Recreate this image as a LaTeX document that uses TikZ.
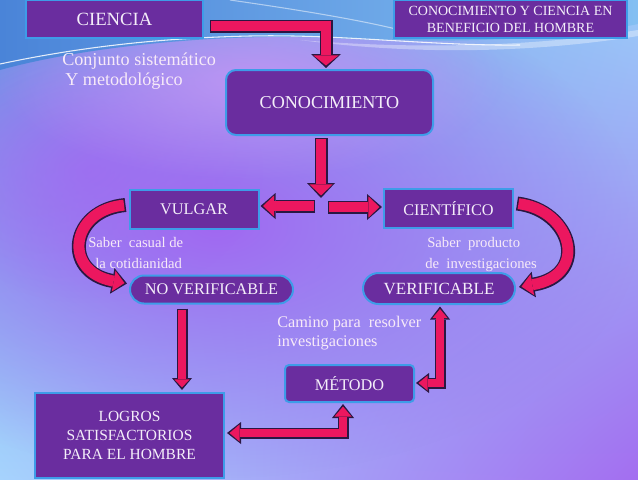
\documentclass[tikz,border=0pt]{standalone}
\usepackage{fontspec}
\setmainfont{Liberation Serif}
\usetikzlibrary{arrows.meta,shapes.misc,calc,fadings,shadings}
\definecolor{boxfill}{HTML}{6A2D9F}
\definecolor{boxline}{HTML}{3E9CE8}
\definecolor{boxtext}{HTML}{F4EEF9}
\definecolor{labtext}{HTML}{F7EAF8}
\definecolor{arrpink}{HTML}{EC175F}
\definecolor{arrdark}{HTML}{2A1742}
\definecolor{bgUL}{HTML}{6296E2}
\definecolor{bgUR}{HTML}{9ACAF8}
\definecolor{bgLL}{HTML}{A6D3FD}
\definecolor{bgLR}{HTML}{A36EF0}
\definecolor{bgP}{HTML}{A169F1}
\definecolor{bgL}{HTML}{C596F4}
\definecolor{topL}{HTML}{4A84D8}
\definecolor{topR}{HTML}{84BFF2}
\tikzfading[name=softfade, inner color=transparent!0, outer color=transparent!100]

% single-headed block arrow: #1 shaft px, #2 head width px, #3 head length px, #4 path
\newcommand\blockarrow[4]{%
  \pgfmathsetmacro\bow{#1*0.75}\pgfmathsetmacro\biw{(#1-3)*0.75}%
  \pgfmathsetmacro\bohw{#2*0.75}\pgfmathsetmacro\bihw{(#2-5)*0.75}%
  \pgfmathsetmacro\bohl{#3*0.75}\pgfmathsetmacro\bihl{(#3-4)*0.75}%
  \draw[arrdark, line width=\bow pt, line join=miter,
        -{Triangle[width=\bohw pt, length=\bohl pt, line width=0pt]}] #4;
  \draw[arrpink, line width=\biw pt, line join=miter, shorten <=1.1pt, shorten >=1.9pt,
        -{Triangle[width=\bihw pt, length=\bihl pt, line width=0pt]}] #4;
}
% double-headed block arrow
\newcommand\dblockarrow[4]{%
  \pgfmathsetmacro\bow{#1*0.75}\pgfmathsetmacro\biw{(#1-3)*0.75}%
  \pgfmathsetmacro\bohw{#2*0.75}\pgfmathsetmacro\bihw{(#2-5)*0.75}%
  \pgfmathsetmacro\bohl{#3*0.75}\pgfmathsetmacro\bihl{(#3-4)*0.75}%
  \draw[arrdark, line width=\bow pt, line join=miter,
        {Triangle[width=\bohw pt, length=\bohl pt, line width=0pt]}-{Triangle[width=\bohw pt, length=\bohl pt, line width=0pt]}] #4;
  \draw[arrpink, line width=\biw pt, line join=miter, shorten <=1.9pt, shorten >=1.9pt,
        {Triangle[width=\bihw pt, length=\bihl pt, line width=0pt]}-{Triangle[width=\bihw pt, length=\bihl pt, line width=0pt]}] #4;
}

\begin{document}
\begin{tikzpicture}[x=0.75pt,y=-0.75pt,
  box/.style={draw=boxline, line width=1.5pt, fill=boxfill, text=boxtext,
              inner sep=0pt, align=center, font=\fontsize{12.2}{14}\selectfont},
  lab/.style={text=labtext, inner sep=0pt, anchor=base west},
  labsmall/.style={lab, font=\fontsize{11}{13}\selectfont},
  labbig/.style={lab, font=\fontsize{13.6}{15}\selectfont},
  labmid/.style={lab, font=\fontsize{12.2}{14}\selectfont}]
\useasboundingbox (0,0) rectangle (638,479);

% ---------- background ----------
\begin{scope}
\clip (0,0) rectangle (638,479);
\shade[upper left=bgUL, upper right=bgUR, lower left=bgLL, lower right=bgLR]
  (0,0) rectangle (638,479);
\fill[bgP, path fading=softfade]
  (215,225) ellipse [x radius=320pt, y radius=190pt];
\fill[bgP, opacity=.7, path fading=softfade]
  (90,170) ellipse [x radius=130pt, y radius=100pt];
\fill[bgL, opacity=.85, path fading=softfade]
  (250,80) ellipse [x radius=190pt, y radius=75pt];
\shade[left color=topL, right color=topR]
  (0,0) -- (638,0) -- (638,24) .. controls (560,40) and (450,44) .. (330,38)
  .. controls (230,33) and (90,45) .. (0,70) -- cycle;
\fill[white, opacity=.35]
  (300,40) .. controls (420,50) and (540,46) .. (638,30) -- (638,36)
  .. controls (540,52) and (420,56) .. (300,40) -- cycle;
\draw[white, opacity=.85, line width=0.8pt]
  (0,64) .. controls (80,47) and (160,38) .. (250,36) .. controls (340,34) and (430,46) .. (520,45);
\draw[white, opacity=.5, line width=0.8pt]
  (230,0) .. controls (300,10) and (360,20) .. (400,30);
\end{scope}

% ---------- boxes ----------
\node[box, minimum width=132.75pt, minimum height=28.5pt, font=\fontsize{14}{16}\selectfont]
  (ciencia) at (114.5,19) {CIENCIA};
\node[box, minimum width=174.75pt, minimum height=28.5pt, font=\fontsize{10.5}{12.75}\selectfont]
  (titulo) at (510.5,19) {CONOCIMIENTO Y CIENCIA EN\\BENEFICIO DEL HOMBRE};
\node[box, minimum width=155.25pt, minimum height=48.75pt, rounded corners=7.5pt,
      font=\fontsize{13.6}{16}\selectfont]
  (conoc) at (329.5,102.5) {CONOCIMIENTO};
\node[box, minimum width=96.75pt, minimum height=29.25pt] (vulgar) at (194,209) {VULGAR};
\node[box, minimum width=96.75pt, minimum height=29.25pt] (cient) at (448.5,208.5) {CIENTÍFICO};
\node[box, rounded rectangle, minimum width=122.25pt, minimum height=21pt]
  (noverif) at (211.5,289.5) {NO VERIFICABLE};
\node[box, rounded rectangle, minimum width=114pt, minimum height=23.25pt,
      font=\fontsize{12.8}{14}\selectfont]
  (verif) at (439,288.5) {VERIFICABLE};
\node[box, minimum width=96.75pt, minimum height=27.75pt, rounded corners=3pt]
  (metodo) at (349.5,383.5) {MÉTODO};
\node[box, minimum width=141.75pt, minimum height=63.75pt, font=\fontsize{11.6}{14.25}\selectfont]
  (logros) at (129.5,435.5) {LOGROS\\SATISFACTORIOS\\PARA EL HOMBRE};

% ---------- labels ----------
\node[labbig] (l1a) at (62,65) {Conjunto sistemático};
\node[labbig] (l1b) at (65,85) {Y metodológico};
\node[labsmall] (l2a) at (88,247) {Saber\ \ casual de};
\node[labsmall] (l2b) at (95,268) {la cotidianidad};
\node[labsmall] (l3a) at (427,247) {Saber\ \ producto};
\node[labsmall] (l3b) at (425,268) {de\ \ investigaciones};
\node[labmid] (l4a) at (277,327) {Camino para\ \ resolver};
\node[labmid] (l4b) at (277,346) {investigaciones};

% ---------- connectors ----------
\coordinate (a1s) at ($(ciencia.east)+(6,7)$);
\coordinate (a1e) at ($(conoc.north)+(-3.5,-1)$);
\coordinate (split) at (321,198);
\coordinate (lstart) at (315,206);
\coordinate (rstart) at (328,207);
\coordinate (nvs) at ($(noverif.south)+(-29.5,4)$);

\blockarrow{13}{30}{14}{(a1s) -| (a1e)}
\blockarrow{13}{28}{15}{($(conoc.south)+(-8.5,2)$) -- (split)}
\blockarrow{13}{26}{15}{(lstart) -- ($(vulgar.east)+(1,-3)$)}
\blockarrow{13}{26}{15}{(rstart) -- ($(cient.west)+(-1,-1.5)$)}
\blockarrow{14}{26}{15}{($(vulgar.west)+(-3,-4)$) .. controls (70,210) and (62,272) .. ($(noverif.west)+(-2,-6)$)}
\blockarrow{14}{26}{15}{($(cient.east)+(3,-5)$) .. controls (572,210) and (590,275) .. ($(verif.east)+(3,-1.5)$)}
\blockarrow{11}{20}{12}{(nvs) -- ($(nvs |- logros.north)+(0,-2)$)}
\dblockarrow{11}{22}{14}{($(logros.east)+(2,-2.5)$) -| ($(metodo.south)+(-6.5,1)$)}
\dblockarrow{11}{20}{13}{($(verif.south)+(1,1.5)$) |- ($(metodo.east)+(1,-0.5)$)}
\end{tikzpicture}
\end{document}
